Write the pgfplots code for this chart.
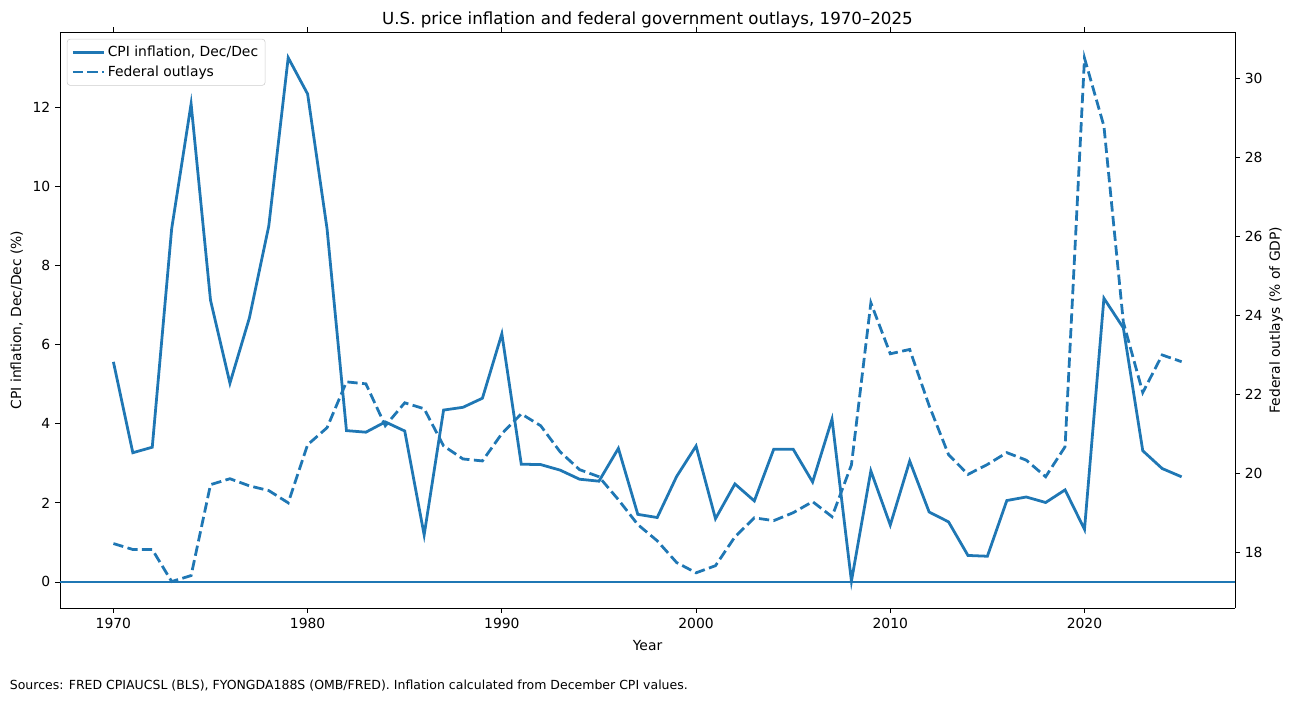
\documentclass[border=0pt]{standalone}
\usepackage{pgfplots}
\pgfplotsset{compat=1.18}
\usepackage{fontspec}
\setmainfont{DejaVu Sans}
\definecolor{tabblue}{HTML}{1F77B4}
\pgfplotstableread{
year cpi
1970 5.57
1971 3.27
1972 3.41
1973 8.94
1974 12.10
1975 7.13
1976 5.03
1977 6.68
1978 9.01
1979 13.27
1980 12.35
1981 8.94
1982 3.83
1983 3.79
1984 4.05
1985 3.82
1986 1.19
1987 4.35
1988 4.42
1989 4.65
1990 6.28
1991 2.98
1992 2.97
1993 2.83
1994 2.60
1995 2.55
1996 3.38
1997 1.71
1998 1.63
1999 2.67
2000 3.44
2001 1.60
2002 2.48
2003 2.05
2004 3.36
2005 3.36
2006 2.53
2007 4.12
2008 0.02
2009 2.81
2010 1.44
2011 3.06
2012 1.77
2013 1.52
2014 0.67
2015 0.65
2016 2.06
2017 2.15
2018 2.01
2019 2.33
2020 1.33
2021 7.18
2022 6.43
2023 3.32
2024 2.87
2025 2.66
}\cpidata
\pgfplotstableread{
year out
1970 18.23
1971 18.08
1972 18.08
1973 17.27
1974 17.42
1975 19.72
1976 19.87
1977 19.69
1978 19.57
1979 19.26
1980 20.73
1981 21.16
1982 22.32
1983 22.27
1984 21.21
1985 21.79
1986 21.64
1987 20.70
1988 20.37
1989 20.32
1990 21.01
1991 21.51
1992 21.21
1993 20.55
1994 20.10
1995 19.92
1996 19.34
1997 18.71
1998 18.30
1999 17.75
2000 17.49
2001 17.67
2002 18.40
2003 18.88
2004 18.81
2005 19.01
2006 19.29
2007 18.91
2008 20.22
2009 24.32
2010 23.03
2011 23.14
2012 21.72
2013 20.48
2014 19.98
2015 20.23
2016 20.53
2017 20.34
2018 19.92
2019 20.68
2020 30.51
2021 28.79
2022 23.83
2023 22.05
2024 23.00
2025 22.83
}\outdata
\begin{document}
\begin{tikzpicture}[font=\fontsize{10}{12}\selectfont]
\pgfplotsset{
  every axis/.append style={
    scale only axis, width=846pt, height=414.72pt,
    xmin=1967.25, xmax=2027.75,
    tick align=outside, major tick length=3.5pt,
    every tick/.style={black, line width=0.6pt},
    axis line style={line width=0.6pt},
    /pgf/number format/assume math mode=true,
    tick label style={font=\fontsize{10}{12}\selectfont},
    label style={font=\fontsize{10}{12}\selectfont},
  }
}
\path[use as bounding box] (-43.2pt,-66.96pt) rectangle (887.04pt,437.76pt);
\begin{axis}[
  axis y line*=left,
  ymin=-0.66, ymax=13.92,
  ytick={0,2,4,6,8,10,12},
  xtick={1970,1980,1990,2000,2010,2020},
  x tick label style={/pgf/number format/1000 sep={}},
  xlabel={Year},
  xlabel style={yshift=-2pt},
  ylabel={CPI inflation, Dec/Dec (\%)},
  title={U.S. price inflation and federal government outlays, 1970–2025},
  title style={font=\fontsize{12}{14}\selectfont, yshift=-6.5pt},
  legend style={at={(0,1)}, anchor=north west, xshift=5pt, yshift=-5pt,
    draw=black!20, rounded corners=2pt, font=\fontsize{10}{12}\selectfont,
    row sep=1pt, inner sep=3pt},
  legend cell align=left,
  legend image post style={xscale=1.3},
]
\addplot[draw=tabblue, line width=0.85pt, forget plot] coordinates {(1967.25,0) (2027.75,0)};
\addplot[tabblue, line width=2pt] table[x=year, y=cpi] {\cpidata};
\addlegendentry{CPI inflation, Dec/Dec}
\addlegendimage{tabblue, line width=2pt, dash pattern=on 7.4pt off 3.2pt}
\addlegendentry{Federal outlays}
\end{axis}
\begin{axis}[
  axis y line*=right, axis x line=none,
  ymin=16.60, ymax=31.17,
  ytick={18,20,22,24,26,28,30},
  ylabel={Federal outlays (\% of GDP)},
  ylabel style={yshift=2pt},
]
\addplot[tabblue, line width=2pt, dash pattern=on 7.4pt off 3.2pt] table[x=year, y=out] {\outdata};
\end{axis}
\node[anchor=west, font=\fontsize{9}{11}\selectfont] at (-39.6pt,-56pt) {Sources: FRED CPIAUCSL (BLS), FYONGDA188S (OMB/FRED). Inflation calculated from December CPI values.};
\end{tikzpicture}
\end{document}
